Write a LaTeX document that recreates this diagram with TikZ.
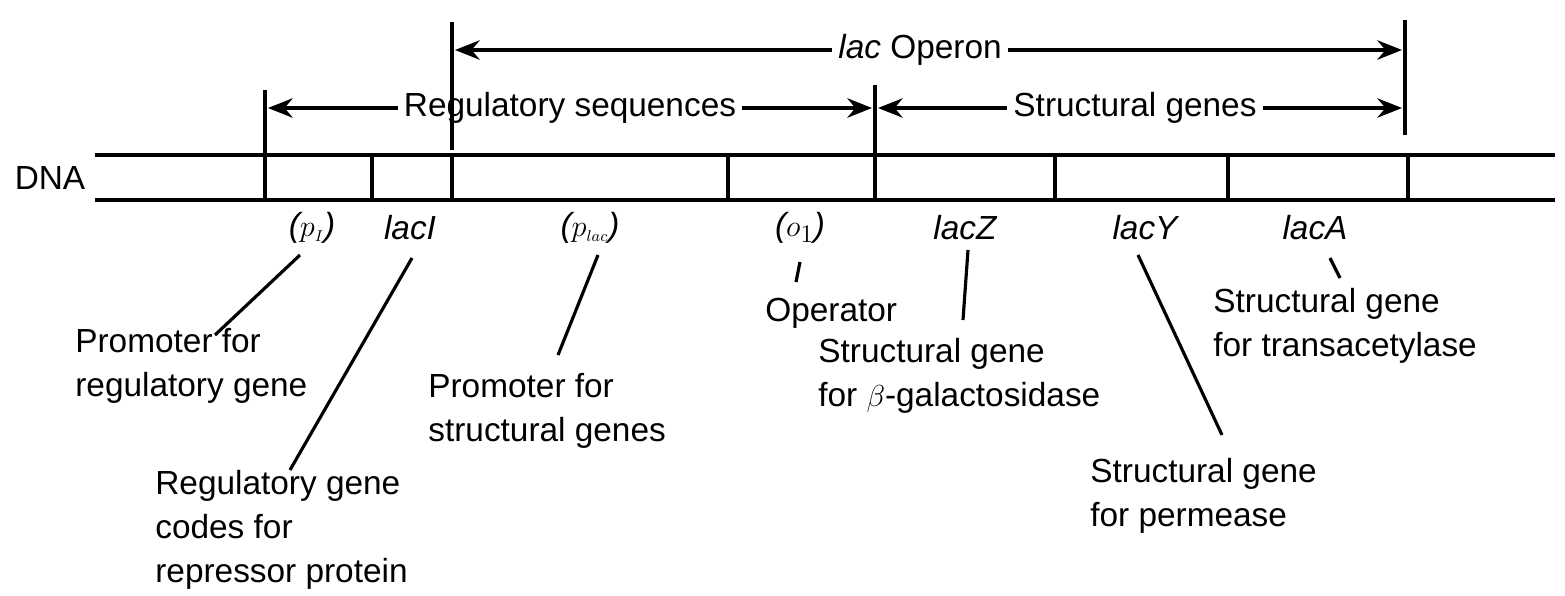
\documentclass[tikz,border=0pt]{standalone}
\usepackage{fontspec}
\setmainfont{Liberation Sans}
\usetikzlibrary{arrows.meta,positioning}

\begin{document}
\begin{tikzpicture}[
    x=0.02cm, y=-0.02cm,
    >={Stealth[length=14pt,width=11pt]},
    strand/.style={line width=2.2pt},
    bar/.style={line width=2.2pt},
    span/.style={line width=2.2pt},
    gene/.style={font=\fontsize{19}{24}\selectfont\itshape},
    note/.style={font=\fontsize{19}{25}\selectfont, align=left, anchor=north west, inner sep=0pt},
    lead/.style={line width=1.8pt}
  ]
  \useasboundingbox (0,0) rectangle (1565,595);
  % DNA strands
  \draw[strand] (95,155) -- (1555,155);
  \draw[strand] (95,200) -- (1555,200);
  \node[font=\fontsize{19}{24}\selectfont] (dna) at (50,178) {DNA};
  \foreach \x in {265,372,452,728,875,1055,1228,1408}
    \draw[bar] (\x,155) -- (\x,200);
  % brackets above
  \draw[bar] (265,90) -- (265,155);
  \draw[bar] (452,22) -- (452,150);
  \draw[bar] (875,85) -- (875,155);
  \draw[bar] (1405,20) -- (1405,135);
  % operon span
  \node[font=\fontsize{19}{24}\selectfont] (operon) at (920,50) {\textit{lac} Operon};
  \draw[span,->] (operon.west) -- (455,50);
  \draw[span,->] (operon.east) -- (1402,50);
  \node[font=\fontsize{19}{24}\selectfont] (regseq) at (570,108) {Regulatory sequences};
  \draw[span,->] (regseq.west) -- (268,108);
  \draw[span,->] (regseq.east) -- (872,108);
  \node[font=\fontsize{19}{24}\selectfont] (strgen) at (1135,108) {Structural genes};
  \draw[span,->] (strgen.west) -- (878,108);
  \draw[span,->] (strgen.east) -- (1402,108);
  % gene labels
  \node[gene] (pI) at (312,228) {($p_{\scriptscriptstyle I}$)};
  \node[gene] (lacI) at (410,228) {lacI};
  \node[gene] (plac) at (590,228) {($p_{\scriptscriptstyle lac}$)};
  \node[gene] (o1) at (800,228) {($o_1$)};
  \node[gene] (lacZ) at (965,228) {lacZ};
  \node[gene] (lacY) at (1145,228) {lacY};
  \node[gene] (lacA) at (1315,228) {lacA};
  % descriptions
  \node[note] (dpI) at (75,328) {Promoter for\\regulatory gene};
  \node[note] (dlacI) at (155,470) {Regulatory gene\\codes for\\repressor protein};
  \node[note] (dplac) at (428,373) {Promoter for\\structural genes};
  \node[note] (do1) at (765,298) {Operator};
  \node[note] (dlacZ) at (818,338) {Structural gene\\for $\beta$-galactosidase};
  \node[note] (dlacY) at (1090,458) {Structural gene\\for permease};
  \node[note] (dlacA) at (1213,288) {Structural gene\\for transacetylase};
  % leaders
  \coordinate (a1) at (300,255); \coordinate (b1) at (215,335);
  \coordinate (a2) at (412,258); \coordinate (b2) at (290,470);
  \coordinate (a3) at (598,255); \coordinate (b3) at (558,355);
  \coordinate (a4) at (800,262); \coordinate (b4) at (796,282);
  \coordinate (a5) at (968,250); \coordinate (b5) at (963,320);
  \coordinate (a6) at (1138,255); \coordinate (b6) at (1222,435);
  \coordinate (a7) at (1330,258); \coordinate (b7) at (1340,278);
  \foreach \i in {1,...,7}
    \draw[lead] (a\i) -- (b\i);
\end{tikzpicture}
\end{document}
